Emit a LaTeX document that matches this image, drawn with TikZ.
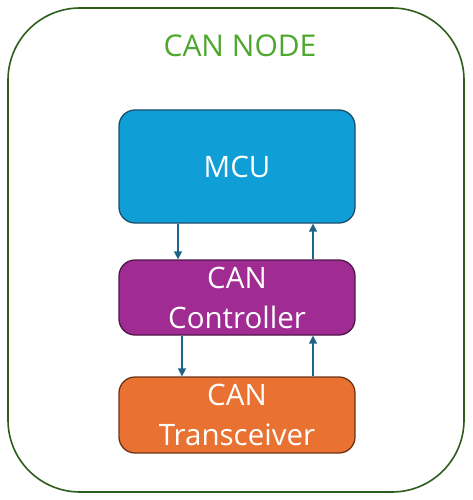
\documentclass[tikz,border=0pt]{standalone}
\usepackage{fontspec}
\setmainfont{Open Sans}
\usetikzlibrary{calc}
\usetikzlibrary{positioning}
\usetikzlibrary{arrows.meta}
\definecolor{nodegreen}{HTML}{2E5E1E}
\definecolor{titlegreen}{HTML}{4EA72E}
\definecolor{mcublue}{HTML}{0F9ED5}
\definecolor{mcuedge}{HTML}{1B4F6B}
\definecolor{ctrlpurple}{HTML}{A02B93}
\definecolor{ctrledge}{HTML}{4F1849}
\definecolor{xcvrorange}{HTML}{E97132}
\definecolor{xcvredge}{HTML}{6B3417}
\definecolor{linkblue}{HTML}{1D6487}
\tikzstyle{blocknode} = [draw, line width=1.3pt, rounded corners=16pt, minimum width=236pt, text=white, align=center, font=\fontsize{29.5}{40}\selectfont]
\tikzstyle{linkarrow} = [draw=linkblue, line width=1.5pt, -{Triangle[width=8pt,length=8pt]}]

\begin{document}
\begin{tikzpicture}[x=1pt, y=-1pt]
    \useasboundingbox (0,0) rectangle (472,500);
    \draw[nodegreen, line width=1.6pt, rounded corners=72pt] (8,8) rectangle (464,492);
    \node[text=titlegreen, font=\fontsize{30}{36}\selectfont] (title) at (240,46) {CAN NODE};

    \node[blocknode, fill=mcublue, draw=mcuedge, minimum height=113pt] (mcu) at (237,166.5) {MCU};
    \node[blocknode, fill=ctrlpurple, draw=ctrledge, minimum height=75pt, inner sep=0pt] (ctrl) at (237,297.5) {CAN\\Controller};
    \node[blocknode, fill=xcvrorange, draw=xcvredge, minimum height=76pt, inner sep=0pt] (xcvr) at (237,415) {CAN\\Transceiver};

    \draw[linkarrow] ([xshift=-59pt]mcu.south) -- ([xshift=-59pt]ctrl.north);
    \draw[linkarrow] ([xshift=76pt]ctrl.north) -- ([xshift=76pt]mcu.south);
    \draw[linkarrow] ([xshift=-55pt]ctrl.south) -- ([xshift=-55pt]xcvr.north);
    \draw[linkarrow] ([xshift=76pt]xcvr.north) -- ([xshift=76pt]ctrl.south);
\end{tikzpicture}
\end{document}
